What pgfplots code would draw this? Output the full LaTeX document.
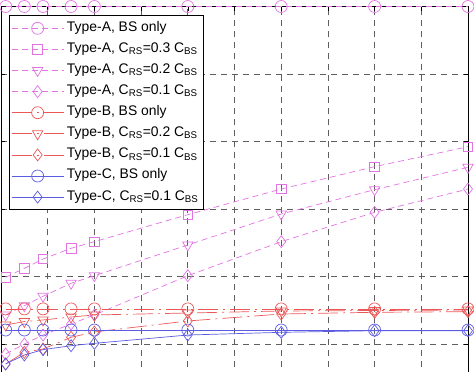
\documentclass[border=0pt]{standalone}
\usepackage{fontspec}
\setmainfont{Liberation Sans}
\usepackage{pgfplots}
\pgfplotsset{compat=1.18}
\definecolor{cA}{RGB}{226,115,226}
\definecolor{cB}{RGB}{236,88,88}
\definecolor{cC}{RGB}{92,92,226}
\definecolor{gridc}{RGB}{95,95,95}
\begin{document}
\begin{tikzpicture}
\begin{scope}
\clip (-1pt,39.5pt) rectangle (473pt,411.5pt);
\begin{axis}[
  at={(0pt,0pt)}, anchor=south west,
  scale only axis, width=467pt, height=405pt,
  xmin=0, xmax=100, ymin=0, ymax=6,
  xtick={0,10,...,100}, ytick={0,1,...,6},
  xticklabels={}, yticklabels={},
  major tick length=4pt,
  tick style={color=black, line width=0.5pt},
  grid=major,
  major grid style={gridc, line width=0.7pt, dash pattern=on 6pt off 5pt},
  axis line style={line width=0.8pt, black},
  every axis plot/.append style={line width=0.7pt},
  legend cell align=left,
  legend style={at={(0.017,0.978)}, anchor=north west, draw=black, fill=white,
    line width=0.7pt,
    font=\fontsize{13.9}{16}\selectfont, inner sep=2pt, row sep=0pt,
    nodes={text height=10.5pt, text depth=4.6pt, inner ysep=3pt, inner xsep=3pt}},
  legend image code/.code={\draw[mark repeat=2, mark phase=2] plot coordinates {(0pt,0pt) (26pt,0pt) (52pt,0pt)};},
]
% Type-A
\addplot[cA, dash pattern=on 6pt off 4pt, mark=o, mark size=6pt, mark options={solid}] coordinates {
(1,6) (5,6) (9,6) (15,6) (20,6) (40,6) (60,6) (80,6) (100,6)};
\addlegendentry{Type-A, BS only}
\addplot[cA, dash pattern=on 6pt off 4pt, mark=square, mark size=4.8pt, mark options={solid}] coordinates {
(1,1.988) (5,2.121) (9,2.259) (15,2.418) (20,2.516) (40,2.916) (60,3.296) (80,3.627) (100,3.923)};
\addlegendentry{Type-A, C\textsubscript{RS}=0.3 C\textsubscript{BS}}
\addplot[cA, dash pattern=on 6pt off 4pt, mark=triangle, mark size=6pt, mark options={solid, rotate=180}] coordinates {
(1,1.430) (5,1.567) (9,1.707) (15,1.899) (20,2.012) (40,2.467) (60,2.926) (80,3.286) (100,3.618)};
\addlegendentry{Type-A, C\textsubscript{RS}=0.2 C\textsubscript{BS}}
\addplot[cA, dash pattern=on 6pt off 4pt, mark=diamond, mark size=6pt, mark options={solid}] coordinates {
(1,0.852) (5,1.0) (9,1.133) (15,1.296) (20,1.430) (40,2.012) (60,2.516) (80,2.951) (100,3.296)};
\addlegendentry{Type-A, C\textsubscript{RS}=0.1 C\textsubscript{BS}}
% Type-B
\addplot[cB, dash pattern=on 20pt off 5pt on 2pt off 5pt, mark=o, mark size=6pt, mark options={solid}] coordinates {
(1,1.52) (5,1.52) (9,1.52) (15,1.52) (20,1.52) (40,1.52) (60,1.52) (80,1.52) (100,1.52)};
\addlegendentry{Type-B, BS only}
\addplot[cB, dash pattern=on 20pt off 5pt on 2pt off 5pt, mark=triangle, mark size=6pt, mark options={solid, rotate=180}] coordinates {
(1,1.281) (5,1.333) (9,1.356) (15,1.400) (20,1.430) (40,1.459) (60,1.489) (80,1.496) (100,1.504)};
\addlegendentry{Type-B, C\textsubscript{RS}=0.2 C\textsubscript{BS}}
\addplot[cB, dash pattern=on 20pt off 5pt on 2pt off 5pt, mark=diamond, mark size=6pt, mark options={solid}] coordinates {
(1,0.704) (5,0.877) (9,0.926) (15,1.099) (20,1.178) (40,1.341) (60,1.444) (80,1.470) (100,1.479)};
\addlegendentry{Type-B, C\textsubscript{RS}=0.1 C\textsubscript{BS}}
% Type-C
\addplot[cC, solid, mark=o, mark size=6pt] coordinates {
(1,1.207) (5,1.207) (9,1.207) (15,1.207) (20,1.207) (40,1.207) (60,1.207) (80,1.207) (100,1.207)};
\addlegendentry{Type-C, BS only}
\addplot[cC, solid, mark=diamond, mark size=6pt] coordinates {
(1,0.704) (5,0.837) (9,0.916) (15,0.975) (20,1.010) (40,1.133) (60,1.173) (80,1.197) (100,1.197)};
\addlegendentry{Type-C, C\textsubscript{RS}=0.1 C\textsubscript{BS}}
\end{axis}
\end{scope}
\pgfresetboundingbox
\useasboundingbox (-1pt,39.5pt) rectangle (473pt,411.5pt);
\end{tikzpicture}
\end{document}
